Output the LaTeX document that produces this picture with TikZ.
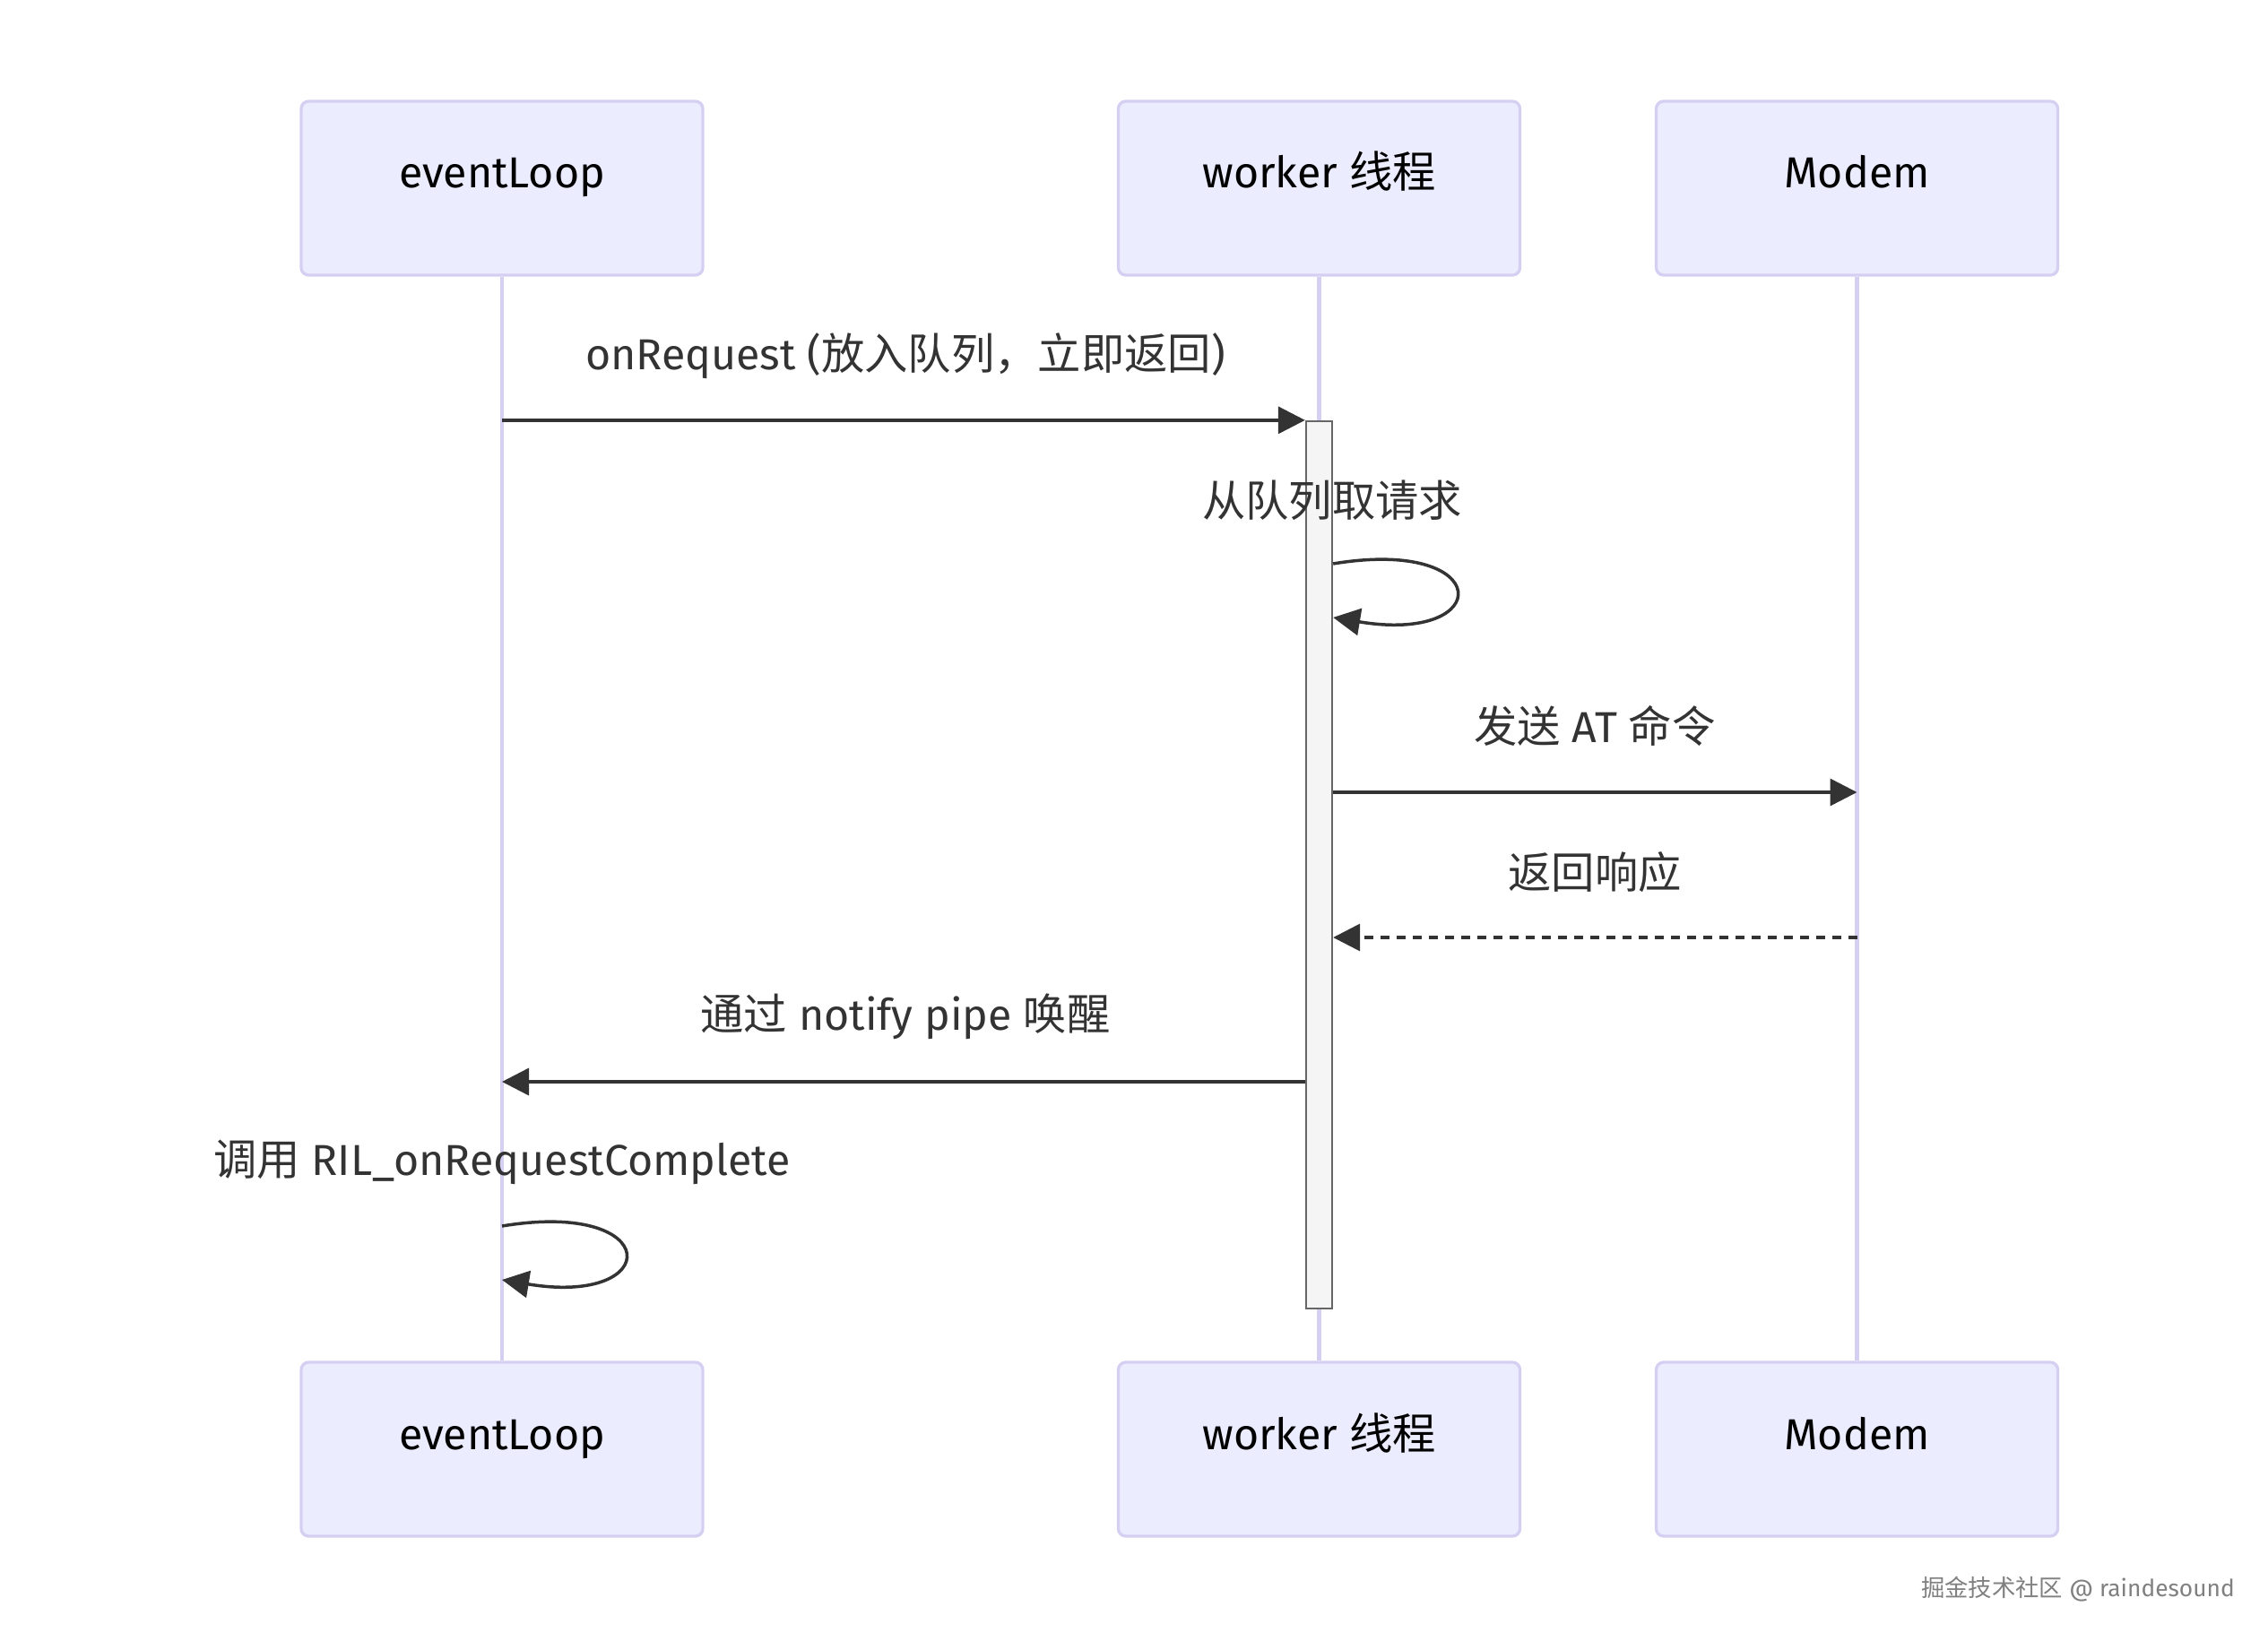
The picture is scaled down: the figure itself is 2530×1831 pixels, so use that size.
\documentclass[tikz,border=0pt]{standalone}
\usepackage{fontspec}
\setmainfont{Fira Sans}
\newfontfamily\cjk{Noto Sans CJK SC}
\usetikzlibrary{arrows.meta}
\definecolor{actfill}{HTML}{ECECFF}
\definecolor{actline}{HTML}{D5D0F2}
\definecolor{msgcol}{HTML}{333333}
\tikzset{
  actor/.style={draw=actline, fill=actfill, line width=1pt, rounded corners=2.5pt,
    minimum width=134.4pt, minimum height=58.2pt, text height=9pt, text depth=9pt,
    font=\fontsize{14.5}{17}\selectfont},
  lifeline/.style={draw=actline, line width=1.3pt},
  activation/.style={draw=black!60, fill=black!4, line width=0.7pt,
    minimum width=8.7pt, minimum height=297pt, inner sep=0pt},
  msg/.style={draw=msgcol, line width=1.05pt, -{Triangle[length=9pt,width=9pt]}},
  reply/.style={msg, dash pattern=on 3pt off 2.4pt},
  msglabel/.style={text=msgcol, inner sep=0pt, font=\fontsize{14.5}{17}\selectfont},
}
\begin{document}
\begin{tikzpicture}[x=0.3pt, y=-0.3pt]
\useasboundingbox[fill=white] (0,0) rectangle (2530,1831);
% actors, top and bottom
\node[actor] (eL) at (560,210) {eventLoop};
\node[actor] (wk) at (1471.5,210) {worker {\cjk 线程}};
\node[actor] (md) at (2071.5,210) {Modem};
\node[actor] (eLb) at (560,1617) {eventLoop};
\node[actor] (wkb) at (1471.5,1617) {worker {\cjk 线程}};
\node[actor] (mdb) at (2071.5,1617) {Modem};
\draw[lifeline] (eL) -- (eLb);
\draw[lifeline] (wk) -- (wkb);
\draw[lifeline] (md) -- (mdb);
% activation of the worker
\node[activation] (act) at (1471.5,965) {};
% messages
\node[msglabel] (t1) at (1010,397) {onRequest ({\cjk 放入队列，立即返回})};
\draw[msg] (eL |- act.north) -- (act.north west);
\node[msglabel] (t2) at (1486,558) {\cjk 从队列取请求};
\coordinate (l1a) at (act.east |- 0,629);
\coordinate (l1b) at (act.east |- 0,689);
\draw[msg] (l1a) .. controls +(181,-30) and +(181,30) .. (l1b);
\node[msglabel] (t3) at (1779,810) {{\cjk 发送} AT {\cjk 命令}};
\draw[msg] (act.east |- 0,884) -- (md |- 0,884);
\node[msglabel] (t4) at (1779,973) {\cjk 返回响应};
\draw[reply] (md |- 0,1046) -- (act.east |- 0,1046);
\node[msglabel] (t5) at (1010,1134) {{\cjk 通过} notify pipe {\cjk 唤醒}};
\draw[msg] (act.west |- 0,1207) -- (eL |- 0,1207);
\node[msglabel] (t6) at (560,1297) {{\cjk 调用} RIL\_onRequestComplete};
\coordinate (l2a) at (eL |- 0,1368);
\coordinate (l2b) at (eL |- 0,1428);
\draw[msg] (l2a) .. controls +(181,-30) and +(181,30) .. (l2b);
% watermark
\node[text=black!50, font=\fontsize{7.9}{9}\selectfont] (wm) at (2318,1773) {{\cjk 掘金技术社区} @ raindesound};
\end{tikzpicture}
\end{document}
